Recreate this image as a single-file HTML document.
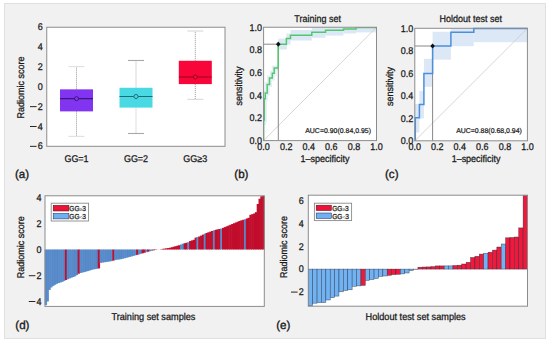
<!DOCTYPE html>
<html><head><meta charset="utf-8"><style>html,body{margin:0;padding:0;background:#fff;width:550px;height:344px;overflow:hidden}svg{display:block}text{text-rendering:geometricPrecision}text{font-family:"Liberation Sans",sans-serif}</style></head>
<body><svg width="550" height="344" viewBox="0 0 550 344" font-family="Liberation Sans, sans-serif">
<rect width="550" height="344" fill="#ffffff"/>
<rect x="4.5" y="3.5" width="541" height="335" fill="#f1f1f1" stroke="#e0e0e0" stroke-width="1"/>
<rect x="46.75" y="27.25" width="178.25" height="119.05000000000001" fill="#fff"/>
<line x1="76.5" y1="89.35441666666668" x2="76.5" y2="66.63570833333334" stroke="#8a8a8a" stroke-width="0.9" stroke-dasharray="1,1"/>
<line x1="76.5" y1="111.37866666666667" x2="76.5" y2="136.37916666666666" stroke="#8a8a8a" stroke-width="0.9" stroke-dasharray="1,1"/>
<line x1="68.5" y1="66.63570833333334" x2="84.5" y2="66.63570833333334" stroke="#e0e0e0" stroke-width="1.1"/>
<line x1="68.5" y1="136.37916666666666" x2="84.5" y2="136.37916666666666" stroke="#e0e0e0" stroke-width="1.1"/>
<rect x="60.0" y="89.35441666666668" width="33" height="22.024249999999995" fill="#8135f0"/>
<line x1="60.0" y1="98.68" x2="93.0" y2="98.68" stroke="#3e1578" stroke-width="1.15"/>
<circle cx="76.5" cy="98.68" r="2.05" fill="#8135f0" stroke="#3e1578" stroke-width="0.95"/>
<line x1="136.0" y1="87.76708333333335" x2="136.0" y2="60.48479166666667" stroke="#d8d8d8" stroke-width="1"/>
<line x1="136.0" y1="107.60875" x2="136.0" y2="133.50212500000004" stroke="#b8b8b8" stroke-width="0.9" stroke-dasharray="1,1"/>
<line x1="128.0" y1="60.48479166666667" x2="144.0" y2="60.48479166666667" stroke="#a8a8a8" stroke-width="1.1"/>
<line x1="128.0" y1="133.50212500000004" x2="144.0" y2="133.50212500000004" stroke="#a8a8a8" stroke-width="1.1"/>
<rect x="119.5" y="87.76708333333335" width="33" height="19.841666666666654" fill="#48d9e2"/>
<line x1="119.5" y1="96.49741666666668" x2="152.5" y2="96.49741666666668" stroke="#1f6a74" stroke-width="1.15"/>
<circle cx="136.0" cy="96.49741666666668" r="2.05" fill="#48d9e2" stroke="#1f6a74" stroke-width="0.95"/>
<line x1="195.3" y1="60.78241666666667" x2="195.3" y2="31.019916666666667" stroke="#8a8a8a" stroke-width="0.9" stroke-dasharray="1,1"/>
<line x1="195.3" y1="84.09637500000001" x2="195.3" y2="99.37445833333334" stroke="#8a8a8a" stroke-width="0.9" stroke-dasharray="1,1"/>
<line x1="187.3" y1="31.019916666666667" x2="203.3" y2="31.019916666666667" stroke="#d8d8d8" stroke-width="1.1"/>
<line x1="187.3" y1="99.37445833333334" x2="203.3" y2="99.37445833333334" stroke="#d8d8d8" stroke-width="1.1"/>
<rect x="178.8" y="60.78241666666667" width="33" height="23.31395833333334" fill="#f8053a"/>
<line x1="178.8" y1="76.953375" x2="211.8" y2="76.953375" stroke="#9a0620" stroke-width="1.15"/>
<circle cx="195.3" cy="76.953375" r="2.05" fill="#f8053a" stroke="#9a0620" stroke-width="0.95"/>
<rect x="46.75" y="27.25" width="178.25" height="119.05000000000001" fill="none" stroke="#8c8c8c" stroke-width="1"/>
<text transform="translate(42.80,30.35) scale(0.92,1)" font-size="9.78" fill="#1a1a1a" stroke="#1a1a1a" stroke-width="0.28" text-anchor="end" >6</text>
<text transform="translate(42.80,50.19) scale(0.92,1)" font-size="9.78" fill="#1a1a1a" stroke="#1a1a1a" stroke-width="0.28" text-anchor="end" >4</text>
<text transform="translate(42.80,70.03) scale(0.92,1)" font-size="9.78" fill="#1a1a1a" stroke="#1a1a1a" stroke-width="0.28" text-anchor="end" >2</text>
<text transform="translate(42.80,89.88) scale(0.92,1)" font-size="9.78" fill="#1a1a1a" stroke="#1a1a1a" stroke-width="0.28" text-anchor="end" >0</text>
<text transform="translate(42.80,109.72) scale(0.92,1)" font-size="9.78" fill="#1a1a1a" stroke="#1a1a1a" stroke-width="0.28" text-anchor="end" >2</text>
<rect x="30.00" y="106.17" width="6.6" height="0.95" fill="#1a1a1a"/>
<text transform="translate(42.80,129.56) scale(0.92,1)" font-size="9.78" fill="#1a1a1a" stroke="#1a1a1a" stroke-width="0.28" text-anchor="end" >4</text>
<rect x="30.00" y="126.01" width="6.6" height="0.95" fill="#1a1a1a"/>
<text transform="translate(42.80,149.40) scale(0.92,1)" font-size="9.78" fill="#1a1a1a" stroke="#1a1a1a" stroke-width="0.28" text-anchor="end" >6</text>
<rect x="30.00" y="145.85" width="6.6" height="0.95" fill="#1a1a1a"/>
<text transform="translate(76.50,161.80) scale(0.92,1)" font-size="9.78" fill="#1a1a1a" stroke="#1a1a1a" stroke-width="0.28" text-anchor="middle" >GG=1</text>
<text transform="translate(136.00,161.80) scale(0.92,1)" font-size="9.78" fill="#1a1a1a" stroke="#1a1a1a" stroke-width="0.28" text-anchor="middle" >GG=2</text>
<text transform="translate(195.30,161.80) scale(0.92,1)" font-size="9.78" fill="#1a1a1a" stroke="#1a1a1a" stroke-width="0.28" text-anchor="middle" >GG≥3</text>
<text transform="translate(23.60,87.50) rotate(-90) scale(0.92,1)" font-size="9.78" fill="#1a1a1a" stroke="#1a1a1a" stroke-width="0.28" text-anchor="middle">Radiomic score</text>
<text transform="translate(15.00,178.30) scale(1,1)" font-size="11.60" fill="#1a1a1a" stroke="#1a1a1a" stroke-width="0.35" text-anchor="start" >(a)</text>
<rect x="263.6" y="27.25" width="112.89999999999998" height="113.35" fill="#fff"/>
<clipPath id="cb"><rect x="263.6" y="27.25" width="112.89999999999998" height="113.35"/></clipPath>
<g clip-path="url(#cb)">
<path d="M263.6,125 V120 H264.3 V98.8 H265.3 V93.1 H267.2 V84.6 H269.5 V78 H272.3 V73.2 H274.2 V68 H278.2" fill="none" stroke="#e6eef8" stroke-width="5"/>
<rect x="278.4" y="38.6" width="8.600000000000023" height="10.899999999999999" fill="#dde8f6"/>
<rect x="286.4" y="33.6" width="4.100000000000023" height="10.899999999999999" fill="#dde8f6"/>
<rect x="290.5" y="30" width="21.30000000000001" height="10.5" fill="#dde8f6"/>
<rect x="311.8" y="27.25" width="13.699999999999989" height="10.549999999999997" fill="#dde8f6"/>
<rect x="325.5" y="27.25" width="18.0" height="8.350000000000001" fill="#dde8f6"/>
<rect x="343.5" y="27.25" width="12.5" height="6.25" fill="#dde8f6"/>
<rect x="356" y="27.25" width="20.5" height="5.149999999999999" fill="#dde8f6"/>
<line x1="263.6" y1="140.6" x2="376.5" y2="27.25" stroke="#c4c4c4" stroke-width="0.7"/>
<line x1="278.3" y1="140.6" x2="278.3" y2="44.2" stroke="#7a7a7a" stroke-width="0.9"/>
<line x1="263.6" y1="44.2" x2="278.3" y2="44.2" stroke="#7a7a7a" stroke-width="0.9"/>
<path d="M263.6,140.6 V120 H264.3 V98.8 H265.3 V93.1 H267.2 V84.6 H269.5 V78 H272.3 V73.2 H274.2 V68 H278.2 V44.2 H286.4 V38.6 H290.5 V35.3 H311.8 V32.2 H325.5 V30.2 H343.5 V29.1 H356 V27.6 H376.5" fill="none" stroke="#52c86e" stroke-width="1.5"/></g>
<path d="M278.3,41.6 L280.6,44.2 L278.3,46.8 L276,44.2 Z" fill="#111"/>
<rect x="263.6" y="27.25" width="112.89999999999998" height="113.35" fill="none" stroke="#8c8c8c" stroke-width="1"/>
<text transform="translate(262.00,143.90) scale(0.92,1)" font-size="9.78" fill="#1a1a1a" stroke="#1a1a1a" stroke-width="0.28" text-anchor="end" >0.0</text>
<text transform="translate(263.60,149.90) scale(0.92,1)" font-size="9.78" fill="#1a1a1a" stroke="#1a1a1a" stroke-width="0.28" text-anchor="middle" >0.0</text>
<text transform="translate(262.00,121.23) scale(0.92,1)" font-size="9.78" fill="#1a1a1a" stroke="#1a1a1a" stroke-width="0.28" text-anchor="end" >0.2</text>
<text transform="translate(286.18,149.90) scale(0.92,1)" font-size="9.78" fill="#1a1a1a" stroke="#1a1a1a" stroke-width="0.28" text-anchor="middle" >0.2</text>
<text transform="translate(262.00,98.56) scale(0.92,1)" font-size="9.78" fill="#1a1a1a" stroke="#1a1a1a" stroke-width="0.28" text-anchor="end" >0.4</text>
<text transform="translate(308.76,149.90) scale(0.92,1)" font-size="9.78" fill="#1a1a1a" stroke="#1a1a1a" stroke-width="0.28" text-anchor="middle" >0.4</text>
<text transform="translate(262.00,75.89) scale(0.92,1)" font-size="9.78" fill="#1a1a1a" stroke="#1a1a1a" stroke-width="0.28" text-anchor="end" >0.6</text>
<text transform="translate(331.34,149.90) scale(0.92,1)" font-size="9.78" fill="#1a1a1a" stroke="#1a1a1a" stroke-width="0.28" text-anchor="middle" >0.6</text>
<text transform="translate(262.00,53.22) scale(0.92,1)" font-size="9.78" fill="#1a1a1a" stroke="#1a1a1a" stroke-width="0.28" text-anchor="end" >0.8</text>
<text transform="translate(353.92,149.90) scale(0.92,1)" font-size="9.78" fill="#1a1a1a" stroke="#1a1a1a" stroke-width="0.28" text-anchor="middle" >0.8</text>
<text transform="translate(262.00,30.55) scale(0.92,1)" font-size="9.78" fill="#1a1a1a" stroke="#1a1a1a" stroke-width="0.28" text-anchor="end" >1.0</text>
<text transform="translate(376.50,149.90) scale(0.92,1)" font-size="9.78" fill="#1a1a1a" stroke="#1a1a1a" stroke-width="0.28" text-anchor="middle" >1.0</text>
<text transform="translate(325.05,161.50) scale(0.92,1)" font-size="9.78" fill="#1a1a1a" stroke="#1a1a1a" stroke-width="0.28" text-anchor="middle" >1–specificity</text>
<text transform="translate(317.60,21.80) scale(0.92,1)" font-size="9.78" fill="#1a1a1a" stroke="#1a1a1a" stroke-width="0.28" text-anchor="middle" >Training set</text>
<text transform="translate(371.00,132.70) scale(1,1)" font-size="6.95" fill="#1a1a1a" stroke="#1a1a1a" stroke-width="0.22" text-anchor="end" >AUC=0.90(0.84,0.95)</text>
<text transform="translate(242.10,85.92) rotate(-90) scale(0.92,1)" font-size="9.78" fill="#1a1a1a" stroke="#1a1a1a" stroke-width="0.28" text-anchor="middle">sensitivity</text>
<text transform="translate(234.30,178.00) scale(1,1)" font-size="11.60" fill="#1a1a1a" stroke="#1a1a1a" stroke-width="0.35" text-anchor="start" >(b)</text>
<rect x="414.8" y="28.3" width="112.59999999999997" height="112.50000000000001" fill="#fff"/>
<rect x="415" y="104" width="4.399999999999977" height="28.400000000000006" fill="#dde8f6"/>
<rect x="419.4" y="90.9" width="4.5" height="27.599999999999994" fill="#dde8f6"/>
<rect x="423.9" y="58.8" width="8.700000000000045" height="28.0" fill="#dde8f6"/>
<rect x="432.6" y="31.8" width="18.299999999999955" height="27.900000000000002" fill="#dde8f6"/>
<rect x="450.9" y="28.3" width="22.900000000000034" height="17.900000000000002" fill="#dde8f6"/>
<rect x="473.8" y="28.3" width="53.599999999999966" height="13.900000000000002" fill="#dde8f6"/>
<line x1="414.8" y1="140.8" x2="527.4" y2="28.3" stroke="#c4c4c4" stroke-width="0.7"/>
<line x1="432.6" y1="140.8" x2="432.6" y2="46" stroke="#7a7a7a" stroke-width="0.9"/>
<line x1="414.8" y1="46" x2="432.6" y2="46" stroke="#7a7a7a" stroke-width="0.9"/>
<path d="M415.3,140.8 V117.7 H419.4 V104.5 H423.9 V73.4 H432.6 V46 H450.9 V32.3 H473.8 V28.6 H527.4" fill="none" stroke="#4a8fdc" stroke-width="1.5"/>
<path d="M432.6,43.4 L434.9,46 L432.6,48.6 L430.3,46 Z" fill="#111"/>
<rect x="414.8" y="28.3" width="112.59999999999997" height="112.50000000000001" fill="none" stroke="#8c8c8c" stroke-width="1"/>
<text transform="translate(413.20,144.10) scale(0.92,1)" font-size="9.78" fill="#1a1a1a" stroke="#1a1a1a" stroke-width="0.28" text-anchor="end" >0.0</text>
<text transform="translate(414.80,149.90) scale(0.92,1)" font-size="9.78" fill="#1a1a1a" stroke="#1a1a1a" stroke-width="0.28" text-anchor="middle" >0.0</text>
<text transform="translate(413.20,121.60) scale(0.92,1)" font-size="9.78" fill="#1a1a1a" stroke="#1a1a1a" stroke-width="0.28" text-anchor="end" >0.2</text>
<text transform="translate(437.32,149.90) scale(0.92,1)" font-size="9.78" fill="#1a1a1a" stroke="#1a1a1a" stroke-width="0.28" text-anchor="middle" >0.2</text>
<text transform="translate(413.20,99.10) scale(0.92,1)" font-size="9.78" fill="#1a1a1a" stroke="#1a1a1a" stroke-width="0.28" text-anchor="end" >0.4</text>
<text transform="translate(459.84,149.90) scale(0.92,1)" font-size="9.78" fill="#1a1a1a" stroke="#1a1a1a" stroke-width="0.28" text-anchor="middle" >0.4</text>
<text transform="translate(413.20,76.60) scale(0.92,1)" font-size="9.78" fill="#1a1a1a" stroke="#1a1a1a" stroke-width="0.28" text-anchor="end" >0.6</text>
<text transform="translate(482.36,149.90) scale(0.92,1)" font-size="9.78" fill="#1a1a1a" stroke="#1a1a1a" stroke-width="0.28" text-anchor="middle" >0.6</text>
<text transform="translate(413.20,54.10) scale(0.92,1)" font-size="9.78" fill="#1a1a1a" stroke="#1a1a1a" stroke-width="0.28" text-anchor="end" >0.8</text>
<text transform="translate(504.88,149.90) scale(0.92,1)" font-size="9.78" fill="#1a1a1a" stroke="#1a1a1a" stroke-width="0.28" text-anchor="middle" >0.8</text>
<text transform="translate(413.20,31.60) scale(0.92,1)" font-size="9.78" fill="#1a1a1a" stroke="#1a1a1a" stroke-width="0.28" text-anchor="end" >1.0</text>
<text transform="translate(527.40,149.90) scale(0.92,1)" font-size="9.78" fill="#1a1a1a" stroke="#1a1a1a" stroke-width="0.28" text-anchor="middle" >1.0</text>
<text transform="translate(476.10,161.50) scale(0.92,1)" font-size="9.78" fill="#1a1a1a" stroke="#1a1a1a" stroke-width="0.28" text-anchor="middle" >1–specificity</text>
<text transform="translate(470.70,21.80) scale(0.92,1)" font-size="9.78" fill="#1a1a1a" stroke="#1a1a1a" stroke-width="0.28" text-anchor="middle" >Holdout test set</text>
<text transform="translate(521.90,132.90) scale(1,1)" font-size="6.95" fill="#1a1a1a" stroke="#1a1a1a" stroke-width="0.22" text-anchor="end" >AUC=0.88(0.68,0.94)</text>
<text transform="translate(393.30,86.55) rotate(-90) scale(0.92,1)" font-size="9.78" fill="#1a1a1a" stroke="#1a1a1a" stroke-width="0.28" text-anchor="middle">sensitivity</text>
<text transform="translate(385.00,178.00) scale(1,1)" font-size="11.60" fill="#1a1a1a" stroke="#1a1a1a" stroke-width="0.35" text-anchor="start" >(c)</text>
<rect x="45.0" y="195.8" width="219.3" height="110.59999999999997" fill="#fff"/>
<rect x="44.75" y="249.50" width="2.328" height="55.63" fill="#5b91d3"/>
<rect x="46.58" y="249.50" width="2.328" height="52.00" fill="#5b91d3"/>
<rect x="48.41" y="249.50" width="2.328" height="40.42" fill="#5b91d3"/>
<rect x="50.23" y="249.50" width="2.328" height="37.96" fill="#5b91d3"/>
<rect x="52.06" y="249.50" width="2.328" height="36.43" fill="#5b91d3"/>
<rect x="53.89" y="249.50" width="2.328" height="35.32" fill="#5b91d3"/>
<rect x="55.72" y="249.50" width="2.328" height="34.29" fill="#5b91d3"/>
<rect x="57.54" y="249.50" width="2.328" height="33.58" fill="#5b91d3"/>
<rect x="59.37" y="249.50" width="2.328" height="32.99" fill="#5b91d3"/>
<rect x="61.20" y="249.50" width="2.328" height="32.41" fill="#5b91d3"/>
<rect x="63.03" y="249.50" width="2.328" height="31.50" fill="#5b91d3"/>
<rect x="64.85" y="249.50" width="2.328" height="30.45" fill="#c90e2e"/>
<rect x="66.68" y="249.50" width="2.328" height="29.70" fill="#5b91d3"/>
<rect x="68.51" y="249.50" width="2.328" height="28.94" fill="#5b91d3"/>
<rect x="70.34" y="249.50" width="2.328" height="28.22" fill="#5b91d3"/>
<rect x="72.16" y="249.50" width="2.328" height="27.51" fill="#5b91d3"/>
<rect x="73.99" y="249.50" width="2.328" height="26.81" fill="#5b91d3"/>
<rect x="75.82" y="249.50" width="2.328" height="25.60" fill="#5b91d3"/>
<rect x="77.65" y="249.50" width="2.328" height="24.18" fill="#c90e2e"/>
<rect x="79.47" y="249.50" width="2.328" height="23.48" fill="#5b91d3"/>
<rect x="81.30" y="249.50" width="2.328" height="23.03" fill="#5b91d3"/>
<rect x="83.13" y="249.50" width="2.328" height="22.59" fill="#5b91d3"/>
<rect x="84.96" y="249.50" width="2.328" height="22.11" fill="#5b91d3"/>
<rect x="86.78" y="249.50" width="2.328" height="21.55" fill="#5b91d3"/>
<rect x="88.61" y="249.50" width="2.328" height="20.99" fill="#5b91d3"/>
<rect x="90.44" y="249.50" width="2.328" height="20.43" fill="#5b91d3"/>
<rect x="92.27" y="249.50" width="2.328" height="19.92" fill="#5b91d3"/>
<rect x="94.09" y="249.50" width="2.328" height="19.59" fill="#5b91d3"/>
<rect x="95.92" y="249.50" width="2.328" height="19.25" fill="#5b91d3"/>
<rect x="97.75" y="249.50" width="2.328" height="18.92" fill="#c90e2e"/>
<rect x="99.58" y="249.50" width="2.328" height="13.36" fill="#5b91d3"/>
<rect x="101.40" y="249.50" width="2.328" height="13.08" fill="#5b91d3"/>
<rect x="103.23" y="249.50" width="2.328" height="12.79" fill="#5b91d3"/>
<rect x="105.06" y="249.50" width="2.328" height="12.50" fill="#5b91d3"/>
<rect x="106.89" y="249.50" width="2.328" height="12.22" fill="#5b91d3"/>
<rect x="108.71" y="249.50" width="2.328" height="11.93" fill="#5b91d3"/>
<rect x="110.54" y="249.50" width="2.328" height="11.65" fill="#5b91d3"/>
<rect x="112.37" y="249.50" width="2.328" height="11.10" fill="#c90e2e"/>
<rect x="114.20" y="249.50" width="2.328" height="10.51" fill="#5b91d3"/>
<rect x="116.02" y="249.50" width="2.328" height="10.18" fill="#5b91d3"/>
<rect x="117.85" y="249.50" width="2.328" height="10.00" fill="#5b91d3"/>
<rect x="119.68" y="249.50" width="2.328" height="9.70" fill="#5b91d3"/>
<rect x="121.51" y="249.50" width="2.328" height="9.26" fill="#5b91d3"/>
<rect x="123.33" y="249.50" width="2.328" height="8.82" fill="#5b91d3"/>
<rect x="125.16" y="249.50" width="2.328" height="8.34" fill="#5b91d3"/>
<rect x="126.99" y="249.50" width="2.328" height="7.85" fill="#5b91d3"/>
<rect x="128.81" y="249.50" width="2.328" height="7.36" fill="#5b91d3"/>
<rect x="130.64" y="249.50" width="2.328" height="6.86" fill="#5b91d3"/>
<rect x="132.47" y="249.50" width="2.328" height="6.37" fill="#5b91d3"/>
<rect x="134.30" y="249.50" width="2.328" height="5.87" fill="#5b91d3"/>
<rect x="136.12" y="249.50" width="2.328" height="5.36" fill="#c90e2e"/>
<rect x="137.95" y="249.50" width="2.328" height="4.85" fill="#5b91d3"/>
<rect x="139.78" y="249.50" width="2.328" height="4.32" fill="#5b91d3"/>
<rect x="141.61" y="249.50" width="2.328" height="3.77" fill="#c90e2e"/>
<rect x="143.44" y="249.50" width="2.328" height="3.22" fill="#c90e2e"/>
<rect x="145.26" y="249.50" width="2.328" height="2.68" fill="#5b91d3"/>
<rect x="147.09" y="249.50" width="2.328" height="2.18" fill="#c90e2e"/>
<rect x="148.92" y="249.50" width="2.328" height="1.68" fill="#5b91d3"/>
<rect x="150.75" y="249.50" width="2.328" height="1.24" fill="#5b91d3"/>
<rect x="152.57" y="249.50" width="2.328" height="0.80" fill="#c90e2e"/>
<rect x="154.40" y="249.50" width="2.328" height="0.41" fill="#c90e2e"/>
<rect x="156.23" y="249.50" width="2.328" height="0.10" fill="#c90e2e"/>
<rect x="158.06" y="249.50" width="2.328" height="0.00" fill="#c90e2e"/>
<rect x="159.88" y="249.24" width="2.328" height="0.26" fill="#c90e2e"/>
<rect x="161.71" y="248.87" width="2.328" height="0.63" fill="#c90e2e"/>
<rect x="163.54" y="248.59" width="2.328" height="0.91" fill="#c90e2e"/>
<rect x="165.37" y="248.32" width="2.328" height="1.18" fill="#c90e2e"/>
<rect x="167.19" y="248.05" width="2.328" height="1.45" fill="#c90e2e"/>
<rect x="169.02" y="247.75" width="2.328" height="1.75" fill="#c90e2e"/>
<rect x="170.85" y="247.24" width="2.328" height="2.26" fill="#c90e2e"/>
<rect x="172.68" y="246.73" width="2.328" height="2.77" fill="#c90e2e"/>
<rect x="174.50" y="246.21" width="2.328" height="3.29" fill="#c90e2e"/>
<rect x="176.33" y="245.70" width="2.328" height="3.80" fill="#c90e2e"/>
<rect x="178.16" y="245.19" width="2.328" height="4.31" fill="#c90e2e"/>
<rect x="179.99" y="244.50" width="2.328" height="5.00" fill="#5b91d3"/>
<rect x="181.81" y="243.71" width="2.328" height="5.79" fill="#5b91d3"/>
<rect x="183.64" y="243.23" width="2.328" height="6.27" fill="#c90e2e"/>
<rect x="185.47" y="242.76" width="2.328" height="6.74" fill="#c90e2e"/>
<rect x="187.30" y="242.10" width="2.328" height="7.40" fill="#5b91d3"/>
<rect x="189.12" y="241.01" width="2.328" height="8.49" fill="#c90e2e"/>
<rect x="190.95" y="240.41" width="2.328" height="9.09" fill="#c90e2e"/>
<rect x="192.78" y="239.82" width="2.328" height="9.68" fill="#c90e2e"/>
<rect x="194.61" y="237.64" width="2.328" height="11.86" fill="#c90e2e"/>
<rect x="196.43" y="237.02" width="2.328" height="12.48" fill="#5b91d3"/>
<rect x="198.26" y="236.47" width="2.328" height="13.03" fill="#c90e2e"/>
<rect x="200.09" y="235.62" width="2.328" height="13.88" fill="#c90e2e"/>
<rect x="201.92" y="234.64" width="2.328" height="14.86" fill="#c90e2e"/>
<rect x="203.74" y="233.65" width="2.328" height="15.85" fill="#5b91d3"/>
<rect x="205.57" y="232.97" width="2.328" height="16.53" fill="#c90e2e"/>
<rect x="207.40" y="232.31" width="2.328" height="17.19" fill="#c90e2e"/>
<rect x="209.23" y="231.65" width="2.328" height="17.85" fill="#c90e2e"/>
<rect x="211.05" y="230.98" width="2.328" height="18.52" fill="#c90e2e"/>
<rect x="212.88" y="230.33" width="2.328" height="19.17" fill="#5b91d3"/>
<rect x="214.71" y="229.80" width="2.328" height="19.70" fill="#c90e2e"/>
<rect x="216.54" y="229.38" width="2.328" height="20.12" fill="#c90e2e"/>
<rect x="218.36" y="228.97" width="2.328" height="20.53" fill="#c90e2e"/>
<rect x="220.19" y="228.55" width="2.328" height="20.95" fill="#5b91d3"/>
<rect x="222.02" y="227.90" width="2.328" height="21.60" fill="#c90e2e"/>
<rect x="223.84" y="227.12" width="2.328" height="22.38" fill="#c90e2e"/>
<rect x="225.67" y="226.34" width="2.328" height="23.16" fill="#c90e2e"/>
<rect x="227.50" y="225.57" width="2.328" height="23.93" fill="#c90e2e"/>
<rect x="229.33" y="224.79" width="2.328" height="24.71" fill="#c90e2e"/>
<rect x="231.16" y="224.03" width="2.328" height="25.47" fill="#c90e2e"/>
<rect x="232.98" y="223.26" width="2.328" height="26.24" fill="#c90e2e"/>
<rect x="234.81" y="222.49" width="2.328" height="27.01" fill="#c90e2e"/>
<rect x="236.64" y="221.72" width="2.328" height="27.78" fill="#c90e2e"/>
<rect x="238.47" y="220.96" width="2.328" height="28.54" fill="#c90e2e"/>
<rect x="240.29" y="220.36" width="2.328" height="29.14" fill="#c90e2e"/>
<rect x="242.12" y="219.81" width="2.328" height="29.69" fill="#c90e2e"/>
<rect x="243.95" y="219.26" width="2.328" height="30.24" fill="#5b91d3"/>
<rect x="245.78" y="218.52" width="2.328" height="30.98" fill="#c90e2e"/>
<rect x="247.60" y="217.79" width="2.328" height="31.71" fill="#c90e2e"/>
<rect x="249.43" y="214.80" width="2.328" height="34.70" fill="#c90e2e"/>
<rect x="251.26" y="214.16" width="2.328" height="35.34" fill="#c90e2e"/>
<rect x="253.09" y="213.51" width="2.328" height="35.99" fill="#c90e2e"/>
<rect x="254.91" y="212.17" width="2.328" height="37.33" fill="#c90e2e"/>
<rect x="256.74" y="203.96" width="2.328" height="45.54" fill="#c90e2e"/>
<rect x="258.57" y="198.74" width="2.328" height="50.76" fill="#c90e2e"/>
<rect x="260.39" y="196.24" width="2.328" height="53.26" fill="#c90e2e"/>
<rect x="262.22" y="195.90" width="2.328" height="53.60" fill="#c90e2e"/>
<line x1="45.00" y1="249.50" x2="45.00" y2="305.13" stroke="#200018" stroke-opacity="0.18" stroke-width="0.5"/>
<line x1="46.83" y1="249.50" x2="46.83" y2="301.50" stroke="#200018" stroke-opacity="0.18" stroke-width="0.5"/>
<line x1="48.66" y1="249.50" x2="48.66" y2="289.92" stroke="#200018" stroke-opacity="0.18" stroke-width="0.5"/>
<line x1="50.48" y1="249.50" x2="50.48" y2="287.46" stroke="#200018" stroke-opacity="0.18" stroke-width="0.5"/>
<line x1="52.31" y1="249.50" x2="52.31" y2="285.93" stroke="#200018" stroke-opacity="0.18" stroke-width="0.5"/>
<line x1="54.14" y1="249.50" x2="54.14" y2="284.82" stroke="#200018" stroke-opacity="0.18" stroke-width="0.5"/>
<line x1="55.97" y1="249.50" x2="55.97" y2="283.79" stroke="#200018" stroke-opacity="0.18" stroke-width="0.5"/>
<line x1="57.79" y1="249.50" x2="57.79" y2="283.08" stroke="#200018" stroke-opacity="0.18" stroke-width="0.5"/>
<line x1="59.62" y1="249.50" x2="59.62" y2="282.49" stroke="#200018" stroke-opacity="0.18" stroke-width="0.5"/>
<line x1="61.45" y1="249.50" x2="61.45" y2="281.91" stroke="#200018" stroke-opacity="0.18" stroke-width="0.5"/>
<line x1="63.28" y1="249.50" x2="63.28" y2="281.00" stroke="#200018" stroke-opacity="0.18" stroke-width="0.5"/>
<line x1="65.10" y1="249.50" x2="65.10" y2="279.95" stroke="#200018" stroke-opacity="0.18" stroke-width="0.5"/>
<line x1="66.93" y1="249.50" x2="66.93" y2="279.20" stroke="#200018" stroke-opacity="0.18" stroke-width="0.5"/>
<line x1="68.76" y1="249.50" x2="68.76" y2="278.44" stroke="#200018" stroke-opacity="0.18" stroke-width="0.5"/>
<line x1="70.59" y1="249.50" x2="70.59" y2="277.72" stroke="#200018" stroke-opacity="0.18" stroke-width="0.5"/>
<line x1="72.41" y1="249.50" x2="72.41" y2="277.01" stroke="#200018" stroke-opacity="0.18" stroke-width="0.5"/>
<line x1="74.24" y1="249.50" x2="74.24" y2="276.31" stroke="#200018" stroke-opacity="0.18" stroke-width="0.5"/>
<line x1="76.07" y1="249.50" x2="76.07" y2="275.10" stroke="#200018" stroke-opacity="0.18" stroke-width="0.5"/>
<line x1="77.90" y1="249.50" x2="77.90" y2="273.68" stroke="#200018" stroke-opacity="0.18" stroke-width="0.5"/>
<line x1="79.72" y1="249.50" x2="79.72" y2="272.98" stroke="#200018" stroke-opacity="0.18" stroke-width="0.5"/>
<line x1="81.55" y1="249.50" x2="81.55" y2="272.53" stroke="#200018" stroke-opacity="0.18" stroke-width="0.5"/>
<line x1="83.38" y1="249.50" x2="83.38" y2="272.09" stroke="#200018" stroke-opacity="0.18" stroke-width="0.5"/>
<line x1="85.21" y1="249.50" x2="85.21" y2="271.61" stroke="#200018" stroke-opacity="0.18" stroke-width="0.5"/>
<line x1="87.03" y1="249.50" x2="87.03" y2="271.05" stroke="#200018" stroke-opacity="0.18" stroke-width="0.5"/>
<line x1="88.86" y1="249.50" x2="88.86" y2="270.49" stroke="#200018" stroke-opacity="0.18" stroke-width="0.5"/>
<line x1="90.69" y1="249.50" x2="90.69" y2="269.93" stroke="#200018" stroke-opacity="0.18" stroke-width="0.5"/>
<line x1="92.52" y1="249.50" x2="92.52" y2="269.42" stroke="#200018" stroke-opacity="0.18" stroke-width="0.5"/>
<line x1="94.34" y1="249.50" x2="94.34" y2="269.09" stroke="#200018" stroke-opacity="0.18" stroke-width="0.5"/>
<line x1="96.17" y1="249.50" x2="96.17" y2="268.75" stroke="#200018" stroke-opacity="0.18" stroke-width="0.5"/>
<line x1="98.00" y1="249.50" x2="98.00" y2="268.42" stroke="#200018" stroke-opacity="0.18" stroke-width="0.5"/>
<line x1="99.83" y1="249.50" x2="99.83" y2="262.86" stroke="#200018" stroke-opacity="0.18" stroke-width="0.5"/>
<line x1="101.65" y1="249.50" x2="101.65" y2="262.58" stroke="#200018" stroke-opacity="0.18" stroke-width="0.5"/>
<line x1="103.48" y1="249.50" x2="103.48" y2="262.29" stroke="#200018" stroke-opacity="0.18" stroke-width="0.5"/>
<line x1="105.31" y1="249.50" x2="105.31" y2="262.00" stroke="#200018" stroke-opacity="0.18" stroke-width="0.5"/>
<line x1="107.14" y1="249.50" x2="107.14" y2="261.72" stroke="#200018" stroke-opacity="0.18" stroke-width="0.5"/>
<line x1="108.96" y1="249.50" x2="108.96" y2="261.43" stroke="#200018" stroke-opacity="0.18" stroke-width="0.5"/>
<line x1="110.79" y1="249.50" x2="110.79" y2="261.15" stroke="#200018" stroke-opacity="0.18" stroke-width="0.5"/>
<line x1="112.62" y1="249.50" x2="112.62" y2="260.60" stroke="#200018" stroke-opacity="0.18" stroke-width="0.5"/>
<line x1="114.45" y1="249.50" x2="114.45" y2="260.01" stroke="#200018" stroke-opacity="0.18" stroke-width="0.5"/>
<line x1="116.27" y1="249.50" x2="116.27" y2="259.68" stroke="#200018" stroke-opacity="0.18" stroke-width="0.5"/>
<line x1="118.10" y1="249.50" x2="118.10" y2="259.50" stroke="#200018" stroke-opacity="0.18" stroke-width="0.5"/>
<line x1="119.93" y1="249.50" x2="119.93" y2="259.20" stroke="#200018" stroke-opacity="0.18" stroke-width="0.5"/>
<line x1="121.76" y1="249.50" x2="121.76" y2="258.76" stroke="#200018" stroke-opacity="0.18" stroke-width="0.5"/>
<line x1="123.58" y1="249.50" x2="123.58" y2="258.32" stroke="#200018" stroke-opacity="0.18" stroke-width="0.5"/>
<line x1="125.41" y1="249.50" x2="125.41" y2="257.84" stroke="#200018" stroke-opacity="0.18" stroke-width="0.5"/>
<line x1="127.24" y1="249.50" x2="127.24" y2="257.35" stroke="#200018" stroke-opacity="0.18" stroke-width="0.5"/>
<line x1="129.06" y1="249.50" x2="129.06" y2="256.86" stroke="#200018" stroke-opacity="0.18" stroke-width="0.5"/>
<line x1="130.89" y1="249.50" x2="130.89" y2="256.36" stroke="#200018" stroke-opacity="0.18" stroke-width="0.5"/>
<line x1="132.72" y1="249.50" x2="132.72" y2="255.87" stroke="#200018" stroke-opacity="0.18" stroke-width="0.5"/>
<line x1="134.55" y1="249.50" x2="134.55" y2="255.37" stroke="#200018" stroke-opacity="0.18" stroke-width="0.5"/>
<line x1="136.38" y1="249.50" x2="136.38" y2="254.86" stroke="#200018" stroke-opacity="0.18" stroke-width="0.5"/>
<line x1="138.20" y1="249.50" x2="138.20" y2="254.35" stroke="#200018" stroke-opacity="0.18" stroke-width="0.5"/>
<line x1="140.03" y1="249.50" x2="140.03" y2="253.82" stroke="#200018" stroke-opacity="0.18" stroke-width="0.5"/>
<line x1="141.86" y1="249.50" x2="141.86" y2="253.27" stroke="#200018" stroke-opacity="0.18" stroke-width="0.5"/>
<line x1="143.69" y1="249.50" x2="143.69" y2="252.72" stroke="#200018" stroke-opacity="0.18" stroke-width="0.5"/>
<line x1="145.51" y1="249.50" x2="145.51" y2="252.18" stroke="#200018" stroke-opacity="0.18" stroke-width="0.5"/>
<line x1="147.34" y1="249.50" x2="147.34" y2="251.68" stroke="#200018" stroke-opacity="0.18" stroke-width="0.5"/>
<line x1="149.17" y1="249.50" x2="149.17" y2="251.18" stroke="#200018" stroke-opacity="0.18" stroke-width="0.5"/>
<line x1="151.00" y1="249.50" x2="151.00" y2="250.74" stroke="#200018" stroke-opacity="0.18" stroke-width="0.5"/>
<line x1="152.82" y1="249.50" x2="152.82" y2="250.30" stroke="#200018" stroke-opacity="0.18" stroke-width="0.5"/>
<line x1="154.65" y1="249.50" x2="154.65" y2="249.91" stroke="#200018" stroke-opacity="0.18" stroke-width="0.5"/>
<line x1="156.48" y1="249.50" x2="156.48" y2="249.60" stroke="#200018" stroke-opacity="0.18" stroke-width="0.5"/>
<line x1="158.31" y1="249.50" x2="158.31" y2="249.50" stroke="#200018" stroke-opacity="0.18" stroke-width="0.5"/>
<line x1="160.13" y1="249.24" x2="160.13" y2="249.50" stroke="#200018" stroke-opacity="0.18" stroke-width="0.5"/>
<line x1="161.96" y1="248.87" x2="161.96" y2="249.50" stroke="#200018" stroke-opacity="0.18" stroke-width="0.5"/>
<line x1="163.79" y1="248.59" x2="163.79" y2="249.50" stroke="#200018" stroke-opacity="0.18" stroke-width="0.5"/>
<line x1="165.62" y1="248.32" x2="165.62" y2="249.50" stroke="#200018" stroke-opacity="0.18" stroke-width="0.5"/>
<line x1="167.44" y1="248.05" x2="167.44" y2="249.50" stroke="#200018" stroke-opacity="0.18" stroke-width="0.5"/>
<line x1="169.27" y1="247.75" x2="169.27" y2="249.50" stroke="#200018" stroke-opacity="0.18" stroke-width="0.5"/>
<line x1="171.10" y1="247.24" x2="171.10" y2="249.50" stroke="#200018" stroke-opacity="0.18" stroke-width="0.5"/>
<line x1="172.93" y1="246.73" x2="172.93" y2="249.50" stroke="#200018" stroke-opacity="0.18" stroke-width="0.5"/>
<line x1="174.75" y1="246.21" x2="174.75" y2="249.50" stroke="#200018" stroke-opacity="0.18" stroke-width="0.5"/>
<line x1="176.58" y1="245.70" x2="176.58" y2="249.50" stroke="#200018" stroke-opacity="0.18" stroke-width="0.5"/>
<line x1="178.41" y1="245.19" x2="178.41" y2="249.50" stroke="#200018" stroke-opacity="0.18" stroke-width="0.5"/>
<line x1="180.24" y1="244.50" x2="180.24" y2="249.50" stroke="#200018" stroke-opacity="0.18" stroke-width="0.5"/>
<line x1="182.06" y1="243.71" x2="182.06" y2="249.50" stroke="#200018" stroke-opacity="0.18" stroke-width="0.5"/>
<line x1="183.89" y1="243.23" x2="183.89" y2="249.50" stroke="#200018" stroke-opacity="0.18" stroke-width="0.5"/>
<line x1="185.72" y1="242.76" x2="185.72" y2="249.50" stroke="#200018" stroke-opacity="0.18" stroke-width="0.5"/>
<line x1="187.55" y1="242.10" x2="187.55" y2="249.50" stroke="#200018" stroke-opacity="0.18" stroke-width="0.5"/>
<line x1="189.37" y1="241.01" x2="189.37" y2="249.50" stroke="#200018" stroke-opacity="0.18" stroke-width="0.5"/>
<line x1="191.20" y1="240.41" x2="191.20" y2="249.50" stroke="#200018" stroke-opacity="0.18" stroke-width="0.5"/>
<line x1="193.03" y1="239.82" x2="193.03" y2="249.50" stroke="#200018" stroke-opacity="0.18" stroke-width="0.5"/>
<line x1="194.86" y1="237.64" x2="194.86" y2="249.50" stroke="#200018" stroke-opacity="0.18" stroke-width="0.5"/>
<line x1="196.68" y1="237.02" x2="196.68" y2="249.50" stroke="#200018" stroke-opacity="0.18" stroke-width="0.5"/>
<line x1="198.51" y1="236.47" x2="198.51" y2="249.50" stroke="#200018" stroke-opacity="0.18" stroke-width="0.5"/>
<line x1="200.34" y1="235.62" x2="200.34" y2="249.50" stroke="#200018" stroke-opacity="0.18" stroke-width="0.5"/>
<line x1="202.17" y1="234.64" x2="202.17" y2="249.50" stroke="#200018" stroke-opacity="0.18" stroke-width="0.5"/>
<line x1="203.99" y1="233.65" x2="203.99" y2="249.50" stroke="#200018" stroke-opacity="0.18" stroke-width="0.5"/>
<line x1="205.82" y1="232.97" x2="205.82" y2="249.50" stroke="#200018" stroke-opacity="0.18" stroke-width="0.5"/>
<line x1="207.65" y1="232.31" x2="207.65" y2="249.50" stroke="#200018" stroke-opacity="0.18" stroke-width="0.5"/>
<line x1="209.48" y1="231.65" x2="209.48" y2="249.50" stroke="#200018" stroke-opacity="0.18" stroke-width="0.5"/>
<line x1="211.30" y1="230.98" x2="211.30" y2="249.50" stroke="#200018" stroke-opacity="0.18" stroke-width="0.5"/>
<line x1="213.13" y1="230.33" x2="213.13" y2="249.50" stroke="#200018" stroke-opacity="0.18" stroke-width="0.5"/>
<line x1="214.96" y1="229.80" x2="214.96" y2="249.50" stroke="#200018" stroke-opacity="0.18" stroke-width="0.5"/>
<line x1="216.79" y1="229.38" x2="216.79" y2="249.50" stroke="#200018" stroke-opacity="0.18" stroke-width="0.5"/>
<line x1="218.61" y1="228.97" x2="218.61" y2="249.50" stroke="#200018" stroke-opacity="0.18" stroke-width="0.5"/>
<line x1="220.44" y1="228.55" x2="220.44" y2="249.50" stroke="#200018" stroke-opacity="0.18" stroke-width="0.5"/>
<line x1="222.27" y1="227.90" x2="222.27" y2="249.50" stroke="#200018" stroke-opacity="0.18" stroke-width="0.5"/>
<line x1="224.09" y1="227.12" x2="224.09" y2="249.50" stroke="#200018" stroke-opacity="0.18" stroke-width="0.5"/>
<line x1="225.92" y1="226.34" x2="225.92" y2="249.50" stroke="#200018" stroke-opacity="0.18" stroke-width="0.5"/>
<line x1="227.75" y1="225.57" x2="227.75" y2="249.50" stroke="#200018" stroke-opacity="0.18" stroke-width="0.5"/>
<line x1="229.58" y1="224.79" x2="229.58" y2="249.50" stroke="#200018" stroke-opacity="0.18" stroke-width="0.5"/>
<line x1="231.41" y1="224.03" x2="231.41" y2="249.50" stroke="#200018" stroke-opacity="0.18" stroke-width="0.5"/>
<line x1="233.23" y1="223.26" x2="233.23" y2="249.50" stroke="#200018" stroke-opacity="0.18" stroke-width="0.5"/>
<line x1="235.06" y1="222.49" x2="235.06" y2="249.50" stroke="#200018" stroke-opacity="0.18" stroke-width="0.5"/>
<line x1="236.89" y1="221.72" x2="236.89" y2="249.50" stroke="#200018" stroke-opacity="0.18" stroke-width="0.5"/>
<line x1="238.72" y1="220.96" x2="238.72" y2="249.50" stroke="#200018" stroke-opacity="0.18" stroke-width="0.5"/>
<line x1="240.54" y1="220.36" x2="240.54" y2="249.50" stroke="#200018" stroke-opacity="0.18" stroke-width="0.5"/>
<line x1="242.37" y1="219.81" x2="242.37" y2="249.50" stroke="#200018" stroke-opacity="0.18" stroke-width="0.5"/>
<line x1="244.20" y1="219.26" x2="244.20" y2="249.50" stroke="#200018" stroke-opacity="0.18" stroke-width="0.5"/>
<line x1="246.03" y1="218.52" x2="246.03" y2="249.50" stroke="#200018" stroke-opacity="0.18" stroke-width="0.5"/>
<line x1="247.85" y1="217.79" x2="247.85" y2="249.50" stroke="#200018" stroke-opacity="0.18" stroke-width="0.5"/>
<line x1="249.68" y1="214.80" x2="249.68" y2="249.50" stroke="#200018" stroke-opacity="0.18" stroke-width="0.5"/>
<line x1="251.51" y1="214.16" x2="251.51" y2="249.50" stroke="#200018" stroke-opacity="0.18" stroke-width="0.5"/>
<line x1="253.34" y1="213.51" x2="253.34" y2="249.50" stroke="#200018" stroke-opacity="0.18" stroke-width="0.5"/>
<line x1="255.16" y1="212.17" x2="255.16" y2="249.50" stroke="#200018" stroke-opacity="0.18" stroke-width="0.5"/>
<line x1="256.99" y1="203.96" x2="256.99" y2="249.50" stroke="#200018" stroke-opacity="0.18" stroke-width="0.5"/>
<line x1="258.82" y1="198.74" x2="258.82" y2="249.50" stroke="#200018" stroke-opacity="0.18" stroke-width="0.5"/>
<line x1="260.64" y1="196.24" x2="260.64" y2="249.50" stroke="#200018" stroke-opacity="0.18" stroke-width="0.5"/>
<line x1="262.47" y1="195.90" x2="262.47" y2="249.50" stroke="#200018" stroke-opacity="0.18" stroke-width="0.5"/>
<rect x="45.0" y="195.8" width="219.3" height="110.59999999999997" fill="none" stroke="#8c8c8c" stroke-width="1"/>
<text transform="translate(41.60,201.40) scale(0.92,1)" font-size="9.78" fill="#1a1a1a" stroke="#1a1a1a" stroke-width="0.28" text-anchor="end" >4</text>
<text transform="translate(41.60,227.20) scale(0.92,1)" font-size="9.78" fill="#1a1a1a" stroke="#1a1a1a" stroke-width="0.28" text-anchor="end" >2</text>
<text transform="translate(41.60,253.00) scale(0.92,1)" font-size="9.78" fill="#1a1a1a" stroke="#1a1a1a" stroke-width="0.28" text-anchor="end" >0</text>
<text transform="translate(41.60,278.80) scale(0.92,1)" font-size="9.78" fill="#1a1a1a" stroke="#1a1a1a" stroke-width="0.28" text-anchor="end" >2</text>
<rect x="28.80" y="275.25" width="6.6" height="0.95" fill="#1a1a1a"/>
<text transform="translate(41.60,304.60) scale(0.92,1)" font-size="9.78" fill="#1a1a1a" stroke="#1a1a1a" stroke-width="0.28" text-anchor="end" >4</text>
<rect x="28.80" y="301.05" width="6.6" height="0.95" fill="#1a1a1a"/>
<text transform="translate(23.80,247.30) rotate(-90) scale(0.92,1)" font-size="9.78" fill="#1a1a1a" stroke="#1a1a1a" stroke-width="0.28" text-anchor="middle">Radiomic score</text>
<text transform="translate(153.40,319.60) scale(0.92,1)" font-size="9.95" fill="#1a1a1a" stroke="#1a1a1a" stroke-width="0.28" text-anchor="middle" >Training set samples</text>
<text transform="translate(15.30,329.00) scale(1,1)" font-size="11.60" fill="#1a1a1a" stroke="#1a1a1a" stroke-width="0.35" text-anchor="start" >(d)</text>
<rect x="51.2" y="203.2" width="37.39999999999999" height="17.80000000000001" fill="#fff" stroke="#8a8a8a" stroke-width="0.9"/>
<rect x="53.2" y="205.3" width="15.700000000000003" height="5.699999999999989" fill="#ee1238" stroke="#3a1a1a" stroke-width="0.5"/>
<rect x="53.2" y="213.4" width="15.700000000000003" height="5.5" fill="#70b0f2" stroke="#1a2a4a" stroke-width="0.5"/>
<text transform="translate(69.30,211.00) scale(0.92,1)" font-size="7.17" fill="#1a1a1a" stroke="#1a1a1a" stroke-width="0.28" text-anchor="start" >GG<tspan font-size="5.2" fill="#777" stroke="#777" stroke-width="0.1">≥</tspan>3</text>
<text transform="translate(69.30,218.90) scale(0.92,1)" font-size="7.17" fill="#1a1a1a" stroke="#1a1a1a" stroke-width="0.28" text-anchor="start" >GG<tspan font-size="5.2" fill="#777" stroke="#777" stroke-width="0.1">&lt;</tspan>3</text>
<rect x="308.3" y="195.2" width="219.2" height="111.0" fill="#fff"/>
<rect x="308.30" y="269.10" width="4.384" height="36.70" fill="#70b2f2" stroke="#1a1a2a" stroke-opacity="0.7" stroke-width="0.5"/>
<rect x="312.68" y="269.10" width="4.384" height="34.10" fill="#70b2f2" stroke="#1a1a2a" stroke-opacity="0.7" stroke-width="0.5"/>
<rect x="317.07" y="269.10" width="4.384" height="33.50" fill="#70b2f2" stroke="#1a1a2a" stroke-opacity="0.7" stroke-width="0.5"/>
<rect x="321.45" y="269.10" width="4.384" height="33.50" fill="#70b2f2" stroke="#1a1a2a" stroke-opacity="0.7" stroke-width="0.5"/>
<rect x="325.84" y="269.10" width="4.384" height="30.90" fill="#70b2f2" stroke="#1a1a2a" stroke-opacity="0.7" stroke-width="0.5"/>
<rect x="330.22" y="269.10" width="4.384" height="28.60" fill="#70b2f2" stroke="#1a1a2a" stroke-opacity="0.7" stroke-width="0.5"/>
<rect x="334.60" y="269.10" width="4.384" height="27.00" fill="#70b2f2" stroke="#1a1a2a" stroke-opacity="0.7" stroke-width="0.5"/>
<rect x="338.99" y="269.10" width="4.384" height="22.70" fill="#70b2f2" stroke="#1a1a2a" stroke-opacity="0.7" stroke-width="0.5"/>
<rect x="343.37" y="269.10" width="4.384" height="21.40" fill="#70b2f2" stroke="#1a1a2a" stroke-opacity="0.7" stroke-width="0.5"/>
<rect x="347.76" y="269.10" width="4.384" height="20.70" fill="#70b2f2" stroke="#1a1a2a" stroke-opacity="0.7" stroke-width="0.5"/>
<rect x="352.14" y="269.10" width="4.384" height="17.20" fill="#70b2f2" stroke="#1a1a2a" stroke-opacity="0.7" stroke-width="0.5"/>
<rect x="356.52" y="269.10" width="4.384" height="16.80" fill="#70b2f2" stroke="#1a1a2a" stroke-opacity="0.7" stroke-width="0.5"/>
<rect x="360.91" y="269.10" width="4.384" height="16.30" fill="#ee1a3e" stroke="#1a1a2a" stroke-opacity="0.7" stroke-width="0.5"/>
<rect x="365.29" y="269.10" width="4.384" height="11.30" fill="#70b2f2" stroke="#1a1a2a" stroke-opacity="0.7" stroke-width="0.5"/>
<rect x="369.68" y="269.10" width="4.384" height="10.50" fill="#70b2f2" stroke="#1a1a2a" stroke-opacity="0.7" stroke-width="0.5"/>
<rect x="374.06" y="269.10" width="4.384" height="9.40" fill="#70b2f2" stroke="#1a1a2a" stroke-opacity="0.7" stroke-width="0.5"/>
<rect x="378.44" y="269.10" width="4.384" height="7.30" fill="#70b2f2" stroke="#1a1a2a" stroke-opacity="0.7" stroke-width="0.5"/>
<rect x="382.83" y="269.10" width="4.384" height="6.90" fill="#70b2f2" stroke="#1a1a2a" stroke-opacity="0.7" stroke-width="0.5"/>
<rect x="387.21" y="269.10" width="4.384" height="6.20" fill="#ee1a3e" stroke="#1a1a2a" stroke-opacity="0.7" stroke-width="0.5"/>
<rect x="391.60" y="269.10" width="4.384" height="5.50" fill="#ee1a3e" stroke="#1a1a2a" stroke-opacity="0.7" stroke-width="0.5"/>
<rect x="395.98" y="269.10" width="4.384" height="5.20" fill="#ee1a3e" stroke="#1a1a2a" stroke-opacity="0.7" stroke-width="0.5"/>
<rect x="400.36" y="269.10" width="4.384" height="4.80" fill="#70b2f2" stroke="#1a1a2a" stroke-opacity="0.7" stroke-width="0.5"/>
<rect x="404.75" y="269.10" width="4.384" height="3.90" fill="#70b2f2" stroke="#1a1a2a" stroke-opacity="0.7" stroke-width="0.5"/>
<rect x="409.13" y="269.10" width="4.384" height="1.40" fill="#70b2f2" stroke="#1a1a2a" stroke-opacity="0.7" stroke-width="0.5"/>
<rect x="413.52" y="269.10" width="4.384" height="0.30" fill="#70b2f2" stroke="#1a1a2a" stroke-opacity="0.7" stroke-width="0.5"/>
<rect x="417.90" y="267.20" width="4.384" height="1.90" fill="#ee1a3e" stroke="#1a1a2a" stroke-opacity="0.7" stroke-width="0.5"/>
<rect x="422.28" y="267.00" width="4.384" height="2.10" fill="#ee1a3e" stroke="#1a1a2a" stroke-opacity="0.7" stroke-width="0.5"/>
<rect x="426.67" y="266.90" width="4.384" height="2.20" fill="#ee1a3e" stroke="#1a1a2a" stroke-opacity="0.7" stroke-width="0.5"/>
<rect x="431.05" y="266.60" width="4.384" height="2.50" fill="#ee1a3e" stroke="#1a1a2a" stroke-opacity="0.7" stroke-width="0.5"/>
<rect x="435.44" y="265.90" width="4.384" height="3.20" fill="#ee1a3e" stroke="#1a1a2a" stroke-opacity="0.7" stroke-width="0.5"/>
<rect x="439.82" y="265.90" width="4.384" height="3.20" fill="#ee1a3e" stroke="#1a1a2a" stroke-opacity="0.7" stroke-width="0.5"/>
<rect x="444.20" y="265.90" width="4.384" height="3.20" fill="#70b2f2" stroke="#1a1a2a" stroke-opacity="0.7" stroke-width="0.5"/>
<rect x="448.59" y="265.90" width="4.384" height="3.20" fill="#70b2f2" stroke="#1a1a2a" stroke-opacity="0.7" stroke-width="0.5"/>
<rect x="452.97" y="265.50" width="4.384" height="3.60" fill="#ee1a3e" stroke="#1a1a2a" stroke-opacity="0.7" stroke-width="0.5"/>
<rect x="457.36" y="265.20" width="4.384" height="3.90" fill="#ee1a3e" stroke="#1a1a2a" stroke-opacity="0.7" stroke-width="0.5"/>
<rect x="461.74" y="264.00" width="4.384" height="5.10" fill="#ee1a3e" stroke="#1a1a2a" stroke-opacity="0.7" stroke-width="0.5"/>
<rect x="466.12" y="262.30" width="4.384" height="6.80" fill="#ee1a3e" stroke="#1a1a2a" stroke-opacity="0.7" stroke-width="0.5"/>
<rect x="470.51" y="257.50" width="4.384" height="11.60" fill="#ee1a3e" stroke="#1a1a2a" stroke-opacity="0.7" stroke-width="0.5"/>
<rect x="474.89" y="256.30" width="4.384" height="12.80" fill="#ee1a3e" stroke="#1a1a2a" stroke-opacity="0.7" stroke-width="0.5"/>
<rect x="479.28" y="254.10" width="4.384" height="15.00" fill="#ee1a3e" stroke="#1a1a2a" stroke-opacity="0.7" stroke-width="0.5"/>
<rect x="483.66" y="253.30" width="4.384" height="15.80" fill="#70b2f2" stroke="#1a1a2a" stroke-opacity="0.7" stroke-width="0.5"/>
<rect x="488.04" y="252.20" width="4.384" height="16.90" fill="#ee1a3e" stroke="#1a1a2a" stroke-opacity="0.7" stroke-width="0.5"/>
<rect x="492.43" y="250.10" width="4.384" height="19.00" fill="#ee1a3e" stroke="#1a1a2a" stroke-opacity="0.7" stroke-width="0.5"/>
<rect x="496.81" y="247.00" width="4.384" height="22.10" fill="#ee1a3e" stroke="#1a1a2a" stroke-opacity="0.7" stroke-width="0.5"/>
<rect x="501.20" y="244.00" width="4.384" height="25.10" fill="#70b2f2" stroke="#1a1a2a" stroke-opacity="0.7" stroke-width="0.5"/>
<rect x="505.58" y="237.80" width="4.384" height="31.30" fill="#ee1a3e" stroke="#1a1a2a" stroke-opacity="0.7" stroke-width="0.5"/>
<rect x="509.96" y="237.50" width="4.384" height="31.60" fill="#ee1a3e" stroke="#1a1a2a" stroke-opacity="0.7" stroke-width="0.5"/>
<rect x="514.35" y="237.00" width="4.384" height="32.10" fill="#ee1a3e" stroke="#1a1a2a" stroke-opacity="0.7" stroke-width="0.5"/>
<rect x="518.73" y="227.90" width="4.384" height="41.20" fill="#ee1a3e" stroke="#1a1a2a" stroke-opacity="0.7" stroke-width="0.5"/>
<rect x="523.12" y="195.50" width="4.384" height="73.60" fill="#ee1a3e" stroke="#1a1a2a" stroke-opacity="0.7" stroke-width="0.5"/>
<rect x="308.3" y="195.2" width="219.2" height="111.0" fill="none" stroke="#8c8c8c" stroke-width="1"/>
<text transform="translate(303.80,204.12) scale(0.92,1)" font-size="9.78" fill="#1a1a1a" stroke="#1a1a1a" stroke-width="0.28" text-anchor="end" >6</text>
<text transform="translate(303.80,226.88) scale(0.92,1)" font-size="9.78" fill="#1a1a1a" stroke="#1a1a1a" stroke-width="0.28" text-anchor="end" >4</text>
<text transform="translate(303.80,249.64) scale(0.92,1)" font-size="9.78" fill="#1a1a1a" stroke="#1a1a1a" stroke-width="0.28" text-anchor="end" >2</text>
<text transform="translate(303.80,272.40) scale(0.92,1)" font-size="9.78" fill="#1a1a1a" stroke="#1a1a1a" stroke-width="0.28" text-anchor="end" >0</text>
<text transform="translate(303.80,295.16) scale(0.92,1)" font-size="9.78" fill="#1a1a1a" stroke="#1a1a1a" stroke-width="0.28" text-anchor="end" >2</text>
<rect x="291.00" y="291.61" width="6.6" height="0.95" fill="#1a1a1a"/>
<text transform="translate(286.80,247.00) rotate(-90) scale(0.92,1)" font-size="9.78" fill="#1a1a1a" stroke="#1a1a1a" stroke-width="0.28" text-anchor="middle">Radiomic score</text>
<text transform="translate(415.60,320.00) scale(0.92,1)" font-size="9.95" fill="#1a1a1a" stroke="#1a1a1a" stroke-width="0.28" text-anchor="middle" >Holdout test set samples</text>
<text transform="translate(276.20,329.20) scale(1,1)" font-size="11.60" fill="#1a1a1a" stroke="#1a1a1a" stroke-width="0.35" text-anchor="start" >(e)</text>
<rect x="314.4" y="203.2" width="37.200000000000045" height="17.400000000000006" fill="#fff" stroke="#8a8a8a" stroke-width="0.9"/>
<rect x="316.2" y="205.2" width="15.199999999999989" height="5.400000000000006" fill="#ee1238" stroke="#3a1a1a" stroke-width="0.5"/>
<rect x="316.2" y="213" width="15.199999999999989" height="5.5" fill="#70b0f2" stroke="#1a2a4a" stroke-width="0.5"/>
<text transform="translate(332.20,210.60) scale(0.92,1)" font-size="7.17" fill="#1a1a1a" stroke="#1a1a1a" stroke-width="0.28" text-anchor="start" >GG<tspan font-size="5.2" fill="#777" stroke="#777" stroke-width="0.1">≥</tspan>3</text>
<text transform="translate(332.20,218.50) scale(0.92,1)" font-size="7.17" fill="#1a1a1a" stroke="#1a1a1a" stroke-width="0.28" text-anchor="start" >GG<tspan font-size="5.2" fill="#777" stroke="#777" stroke-width="0.1">&lt;</tspan>3</text>
</svg></body></html>
